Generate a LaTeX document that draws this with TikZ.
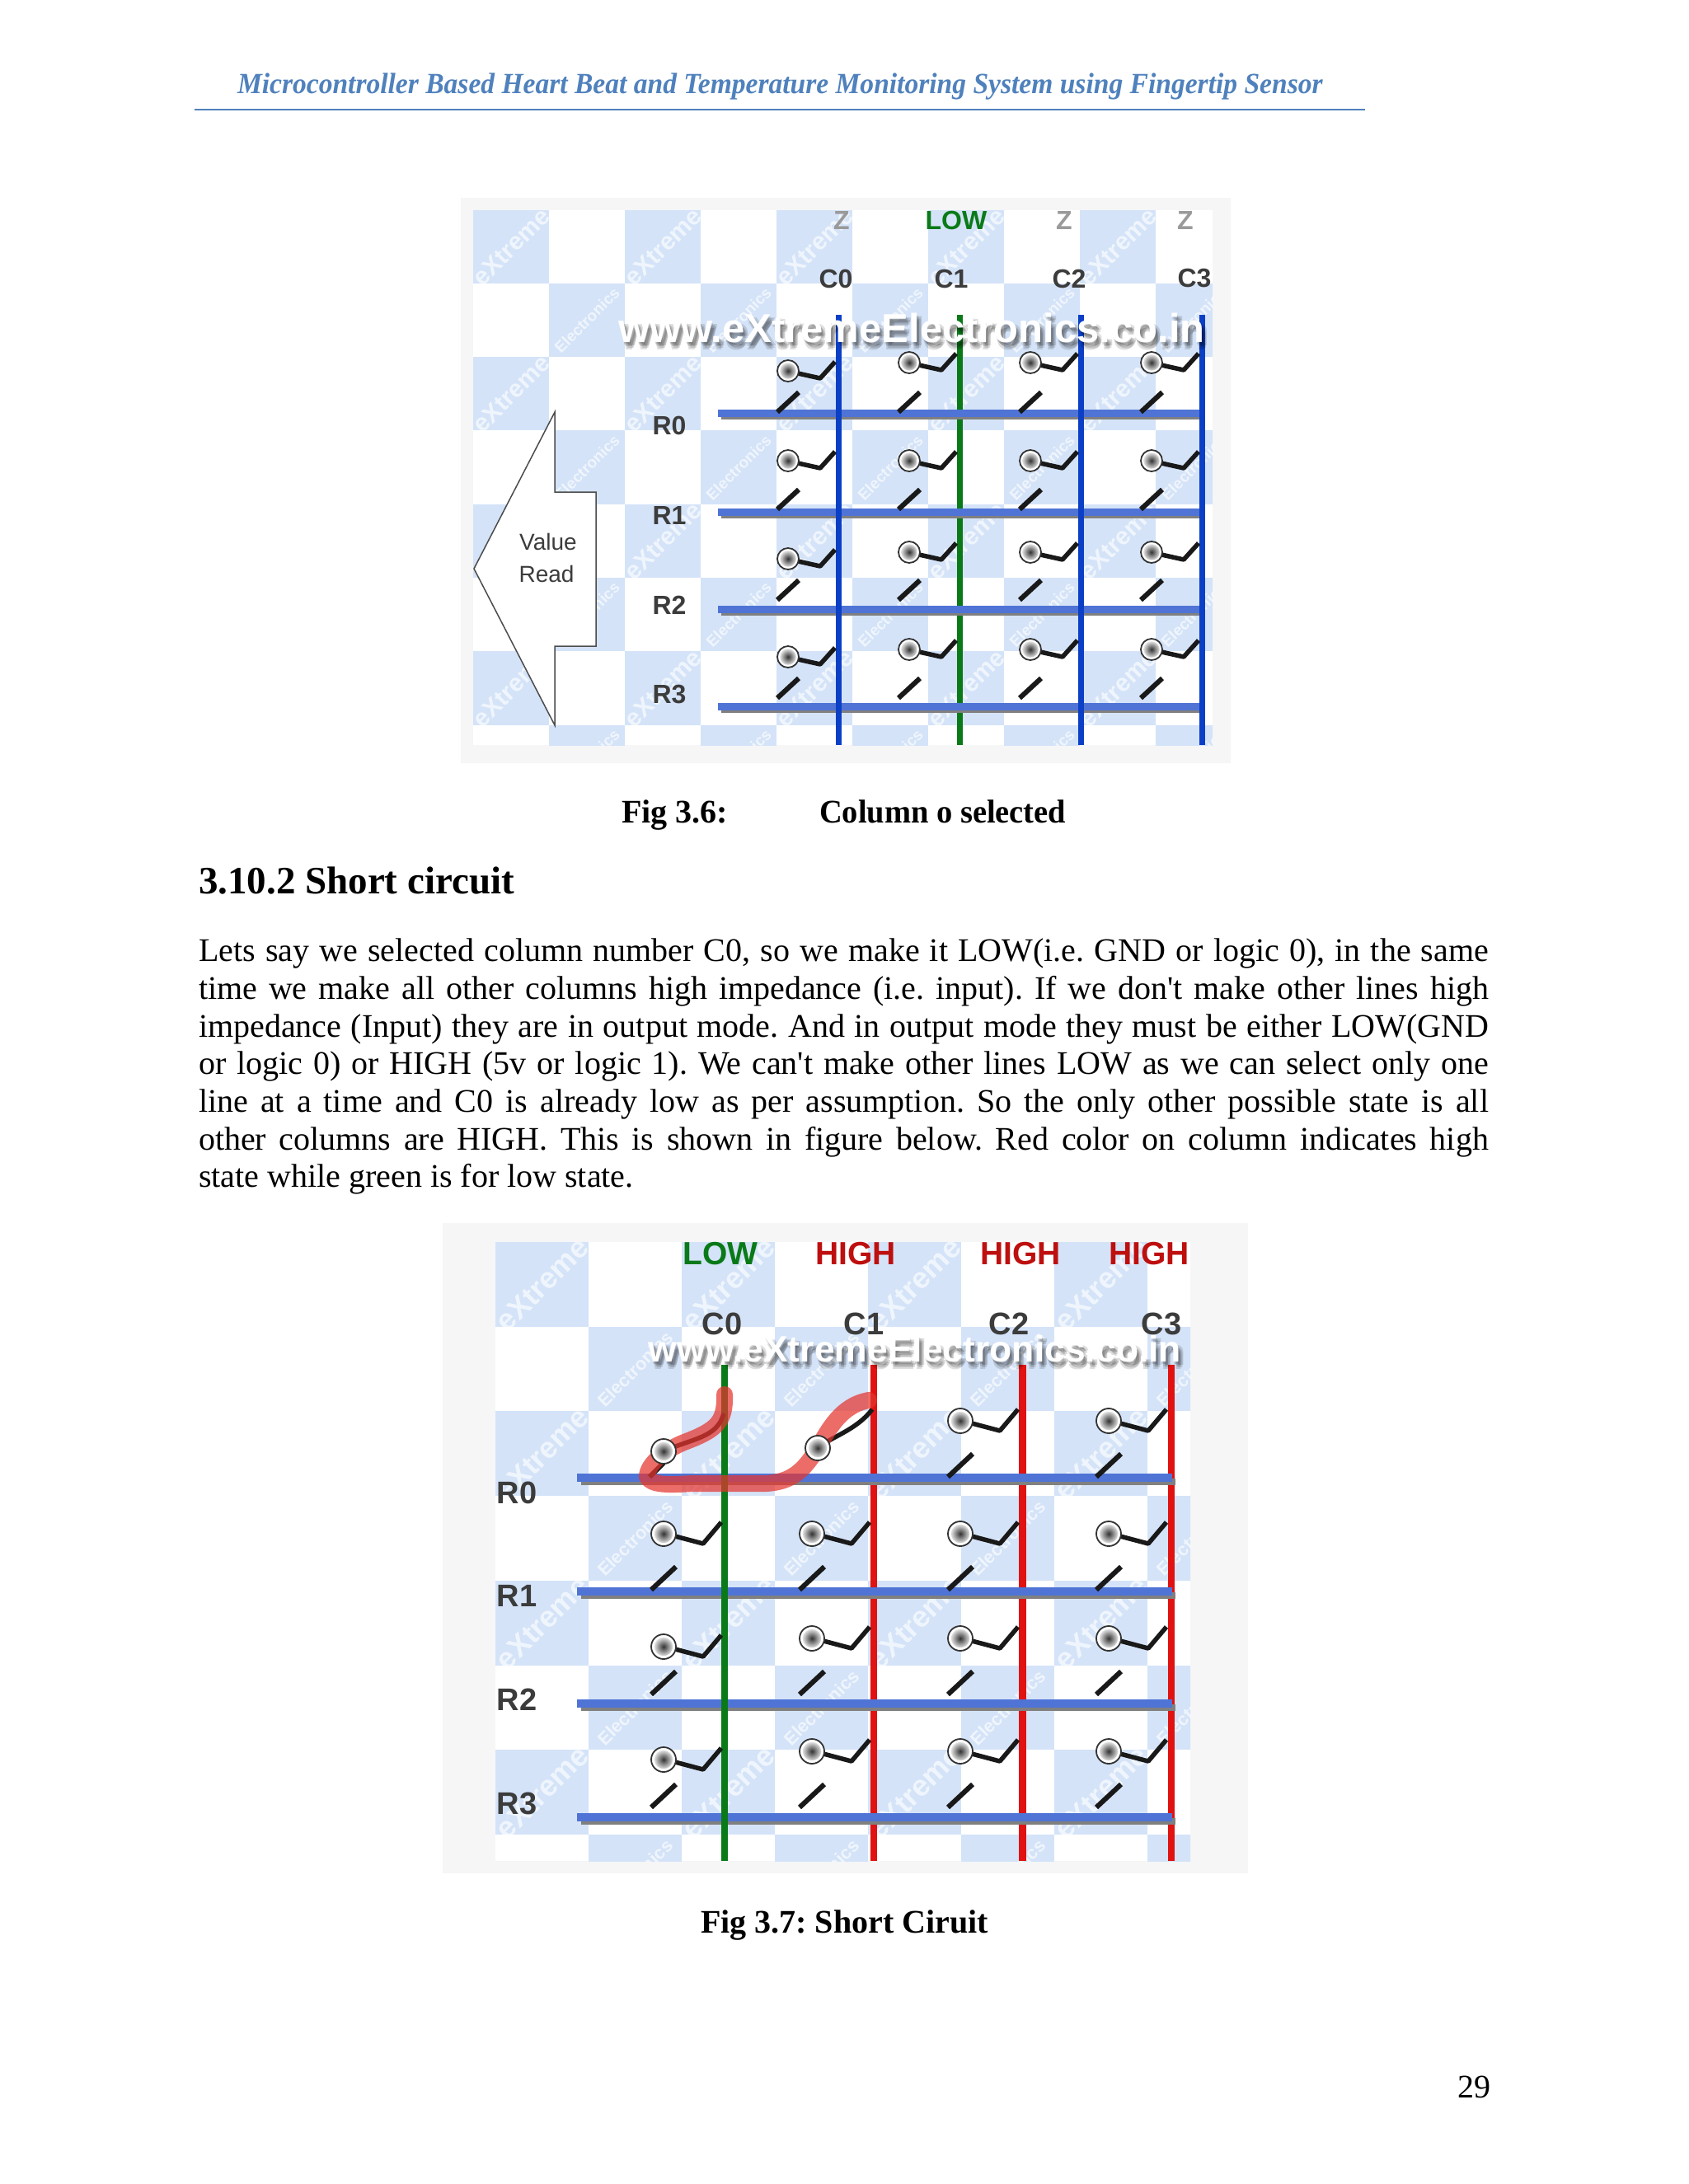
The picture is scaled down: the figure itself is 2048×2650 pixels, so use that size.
\documentclass[tikz,border=0pt]{standalone}
\usepackage{fontspec}
\setmainfont{Liberation Serif}
\newfontfamily\lsans{Liberation Sans}
\definecolor{hdrblue}{HTML}{4F81BD}
\definecolor{cellblue}{HTML}{D4E3F8}
\definecolor{panelgr}{HTML}{F6F6F7}
\definecolor{rowblue}{HTML}{4F74D6}
\definecolor{rowgray}{HTML}{808080}
\definecolor{colblue}{HTML}{0B3FC6}
\definecolor{colgreen}{HTML}{0A7A18}
\definecolor{colred}{HTML}{E01212}
\definecolor{lblgray}{HTML}{3C3C3C}
\definecolor{zgray}{HTML}{9A9A9A}
\definecolor{marker}{HTML}{E5352F}
\newcommand{\fs}[1]{\fontsize{#1}{#1}\selectfont}
\newcommand{\chk}[8]{% x0 dx ncol xend y0 dy nrow yend
  \begin{scope}
  \clip (#1,#5) rectangle (#4,#8);
  \foreach \r in {0,...,#7}{\foreach \c in {0,...,#3}{
    \pgfmathparse{int(mod(\r+\c,2))}\ifnum\pgfmathresult=0
      \pgfmathsetmacro{\xa}{#1+#2*\c}\pgfmathsetmacro{\ya}{#5+#6*\r}
      \fill[cellblue] (\xa,\ya) rectangle ++(#2,#6);
      \pgfmathparse{int(mod(\r,2))}\ifnum\pgfmathresult=0
        \node[wmbig] at (\xa+#2/2,\ya+#6/2) {eXtreme};
      \else
        \node[wmsmall] at (\xa+#2/2,\ya+#6/2) {Electronics};
      \fi
    \fi}}
  \end{scope}}
% web-address watermark with a soft shadow: x y size name
\newcommand{\webmark}[4]{%
  \foreach \ox/\oy in {1/3,3/5,5/7,3/9,6/4}
    \node[inner sep=0pt,font=\lsans\bfseries\fs{#3},text=black,opacity=.13] at (#1+\ox,#2+\oy) {www.eXtremeElectronics.co.in};
  \node[inner sep=0pt,font=\lsans\bfseries\fs{#3},text=white] (#4) at (#1,#2) {www.eXtremeElectronics.co.in};}
\tikzset{
  x=1pt,y=-1pt,
  txt/.style={inner sep=0pt,outer sep=0pt,anchor=base west,text=black},
  body/.style={txt,font=\frenchspacing\fs{40}},
  wmbig/.style={text=white,opacity=.65,rotate=45,inner sep=0pt,font=\lsans\bfseries\fs{30}},
  wmsmall/.style={text=white,opacity=.65,rotate=45,inner sep=0pt,font=\lsans\bfseries\fs{19}},
  lab/.style={inner sep=0pt,font=\lsans\bfseries\fs{32},text=lblgray},
  labb/.style={inner sep=0pt,font=\lsans\bfseries\fs{38},text=lblgray},
  stub/.style={line width=6pt,black!90},
  lever/.style={line width=5.5pt,black!90,line join=round},
}
\newcommand{\contact}[3]{%
  \draw[line width=1.8pt,black!80,fill=white] (#1,#2) circle[radius=#3 pt];
  \shade[inner color=black!80,outer color=white!88!black] (#1,#2) circle[radius=#3*0.75 pt];}
\begin{document}
\begin{tikzpicture}
\useasboundingbox (0,0) rectangle (2048,2650);
\fill[white] (0,0) rectangle (2048,2650);
% header
\node[txt,text=hdrblue,font=\bfseries\itshape\fs{35.5}] (hdr) at (288,113) {\scalebox{.945}[1]{Microcontroller Based Heart Beat and Temperature Monitoring System using Fingertip Sensor}};
\coordinate (ruleL) at (236,133); \coordinate (ruleR) at (1656,133);
\draw[hdrblue,line width=2.5pt] (ruleL) -- (ruleR);

% ---------- figure 3.6
\fill[panelgr] (559,240) rectangle (1493,926);
\fill[white] (574,255) rectangle (1471,904);
\chk{574}{92}{9}{1471}{254.5}{89.3}{7}{904}
\draw[colgreen,line width=7pt] (1164,382) -- (1164,904);
\foreach \y in {501,621,739,857}{
  \draw[rowgray,line width=7pt] (875,\y+4) -- (1462,\y+4);
  \draw[rowblue,line width=9pt] (871,\y) -- (1460,\y);}
\foreach \x in {1017,1311,1458}
  \draw[colblue,line width=7pt] (\x,382) -- (\x,904);
\foreach \cx in {956,1103,1250,1397}\foreach \sy in {500,618,728,847}
  \draw[stub] (\cx-13,\sy) -- (\cx+13,\sy-24);
\foreach \cx/\cy in {956/450,1103/440,1250/440,1397/440,
                     956/559,1103/559,1250/559,1397/559,
                     956/678,1103/670,1250/670,1397/670,
                     956/797,1103/788,1250/788,1397/788}{
  \draw[lever] (\cx+12,\cy+3) -- (\cx+39,\cy+9) -- (\cx+57,\cy-11);
  \contact{\cx}{\cy}{13}}
% arrow
\draw[black!70,line width=1.5pt,fill=white,line join=miter]
  (575,690) -- (673,500) -- (673,597) -- (723,597) -- (723,784) -- (673,784) -- (673,880) -- cycle;
\node[inner sep=0pt,font=\lsans\fs{28},text=lblgray] (val) at (665,657) {Value};
\node[inner sep=0pt,font=\lsans\fs{28},text=lblgray] (rd) at (663,696) {Read};
% labels
\node[lab,text=zgray] (z0) at (1021,267) {Z};
\node[lab,text=colgreen] (low1) at (1160,267) {LOW};
\node[lab,text=zgray] (z2) at (1291,267) {Z};
\node[lab,text=zgray] (z3) at (1438,267) {Z};
\node[lab] (c0a) at (1014,338) {C0};
\node[lab] (c1a) at (1154,338) {C1};
\node[lab] (c2a) at (1297,338) {C2};
\node[lab] (c3a) at (1449,338) {C3};
\node[lab] (r0a) at (812,516) {R0};
\node[lab] (r1a) at (812,625) {R1};
\node[lab] (r2a) at (812,734) {R2};
\node[lab] (r3a) at (812,842) {R3};
\webmark{1106}{398}{49}{wa}

% captions and text
\node[txt,font=\bfseries\fs{40}] (capA) at (754,998) {Fig 3.6:};
\node[txt,font=\bfseries\fs{40}] (capB) at (994,998) {\scalebox{.962}[1]{Column o selected}};
\node[txt,font=\bfseries\fs{47}] (head) at (241,1084) {3.10.2 Short circuit};
\node[body] (l1) at (241,1166) {\makebox[1565pt][s]{Lets say we selected column number C0, so we make it LOW(i.e. GND or logic 0), in the same}};
\node[body] (l2) at (241,1212) {\makebox[1565pt][s]{time we make all other columns high impedance (i.e. input). If we don\textquotesingle t make other lines high}};
\node[body] (l3) at (241,1258) {\makebox[1565pt][s]{impedance (Input) they are in output mode. And in output mode they must be either LOW(GND}};
\node[body] (l4) at (241,1303) {\makebox[1565pt][s]{or logic 0) or HIGH (5v or logic 1). We can\textquotesingle t make other lines LOW as we can select only one}};
\node[body] (l5) at (241,1349) {\makebox[1565pt][s]{line at a time and C0 is already low as per assumption. So the only other possible state is all}};
\node[body] (l6) at (241,1395) {\makebox[1565pt][s]{other columns are HIGH. This is shown in figure below. Red color on column indicates high}};
\node[body] (l7) at (241,1440) {state while green is for low state.};

% ---------- figure 3.7
\fill[panelgr] (537,1484) rectangle (1514,2273);
\fill[white] (601,1507) rectangle (1444,2258);
\tikzset{wmbig/.append style={font=\lsans\bfseries\fs{36}},wmsmall/.append style={font=\lsans\bfseries\fs{22}}}
\chk{601}{113}{7}{1444}{1507}{102.7}{7}{2258}
\foreach \x in {1060,1240.5,1421}
  \draw[colred,line width=8.5pt] (\x,1656) -- (\x,2258);
\foreach \y in {1793,1931,2067,2205}{
  \draw[rowgray,line width=8pt] (705,\y+5) -- (1426,\y+5);
  \draw[rowblue,line width=10pt] (700,\y) -- (1422,\y);}
\draw[colgreen,line width=8.5pt] (879,1656) -- (879,2258);
\foreach \cx in {1165,1345}
  \draw[stub] (\cx-15,1792) -- (\cx+15,1764);
\foreach \cx in {805,985,1165,1345}\foreach \sy in {1929,2056,2193}
  \draw[stub] (\cx-15,\sy) -- (\cx+15,\sy-28);
\foreach \cx/\cy in {1165/1724,1345/1724,
                     805/1861,985/1861,1165/1861,1345/1861,
                     805/1998,985/1988,1165/1988,1345/1988,
                     805/2135,985/2125,1165/2125,1345/2125}{
  \draw[lever] (\cx+14,\cy+3) -- (\cx+48,\cy+12) -- (\cx+70,\cy-14);
  \contact{\cx}{\cy}{15}}
% short-circuit path
\draw[lever] (805,1761) .. controls (840,1745) and (870,1745) .. (878,1715);
\draw[lever] (992,1757) .. controls (1005,1745) and (1040,1735) .. (1058,1710);
\draw[stub] (788,1792) -- (805,1775);
\draw[marker,opacity=.72,line width=20pt,line cap=round,line join=round]
  (879,1692) .. controls (880,1725) and (870,1735) .. (830,1750)
  .. controls (810,1758) and (785,1775) .. (785,1792)
  .. controls (790,1802) and (810,1802) .. (840,1800)
  -- (930,1800) .. controls (960,1798) and (975,1785) .. (992,1757)
  .. controls (1005,1735) and (1020,1705) .. (1054,1699);
\contact{805}{1761}{15}
\contact{992}{1757}{15}
% labels
\node[labb,text=colgreen,font=\lsans\bfseries\fs{39}] (low) at (874,1521) {LOW};
\node[labb,text=colred!85!black,font=\lsans\bfseries\fs{39}] (h1) at (1038,1521) {HIGH};
\node[labb,text=colred!85!black,font=\lsans\bfseries\fs{39}] (h2) at (1238,1521) {HIGH};
\node[labb,text=colred!85!black,font=\lsans\bfseries\fs{39}] (h3) at (1394,1521) {HIGH};
\node[labb] (c0b) at (876,1606) {C0};
\node[labb] (c1b) at (1048,1606) {C1};
\node[labb] (c2b) at (1224,1606) {C2};
\node[labb] (c3b) at (1409,1606) {C3};
\node[labb] (r0b) at (627,1811) {R0};
\node[labb] (r1b) at (627,1936) {R1};
\node[labb] (r2b) at (627,2062) {R2};
\node[labb] (r3b) at (627,2188) {R3};
\webmark{1110}{1637}{44.5}{wb}

\node[txt,font=\frenchspacing\bfseries\fs{40}] (capC) at (850,2345) {Fig 3.7: Short Ciruit};
\node[txt,anchor=base east,font=\fs{40}] (pg) at (1808,2545) {29};
\end{tikzpicture}
\end{document}
